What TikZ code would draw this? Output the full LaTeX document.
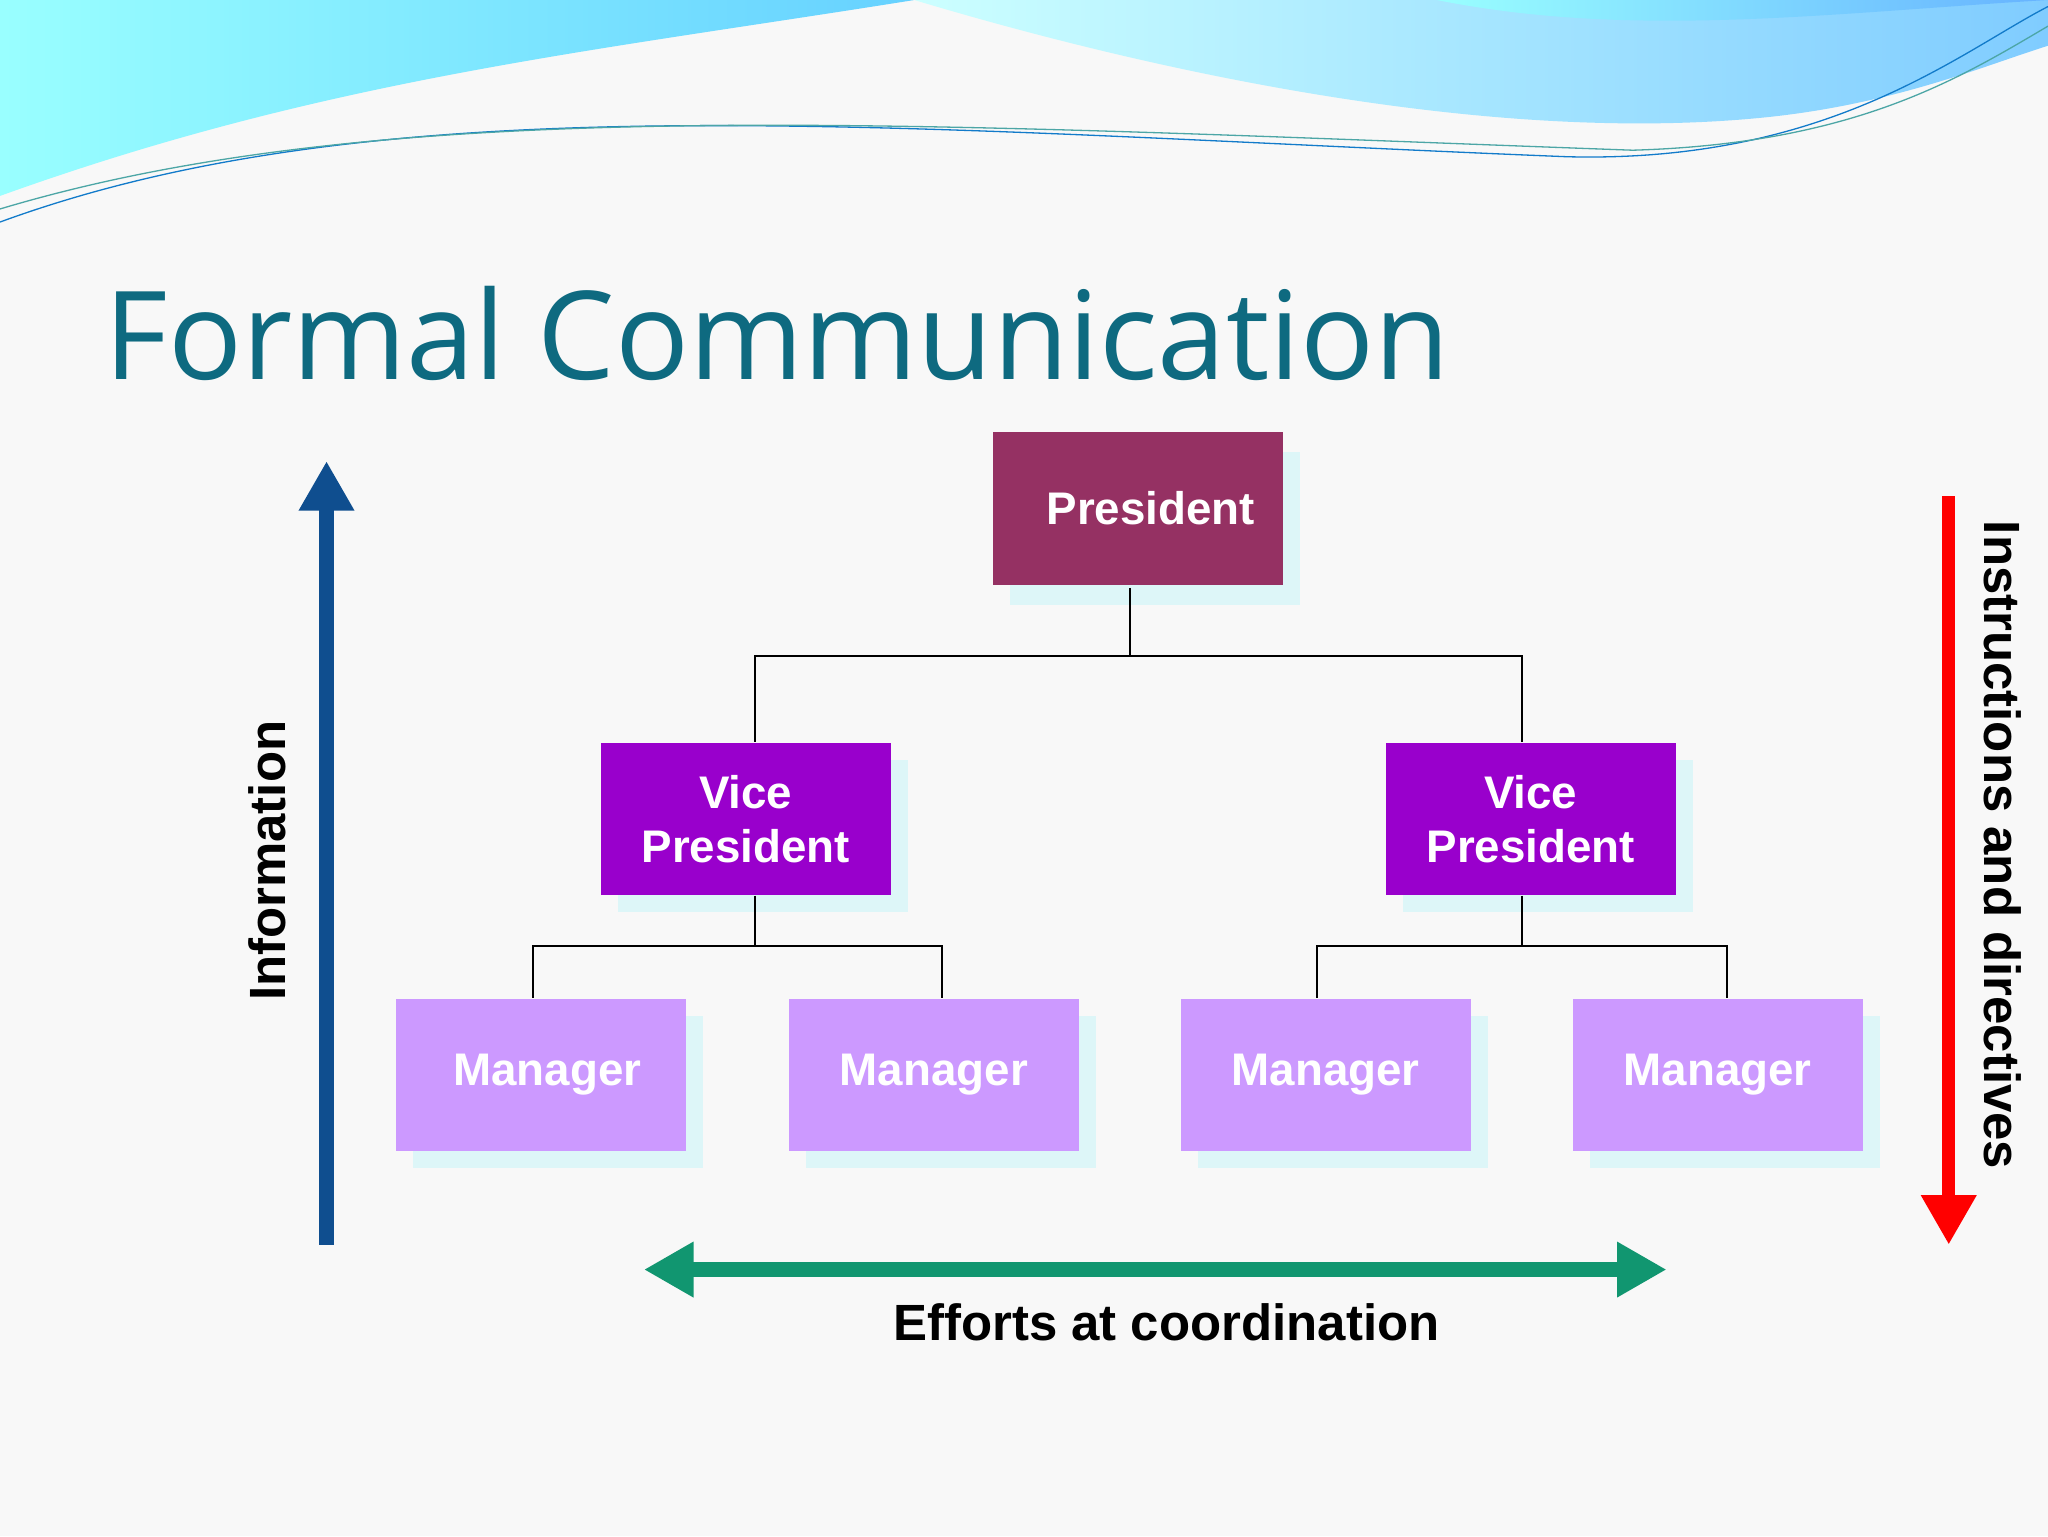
\documentclass[tikz,border=0pt]{standalone}
\usepackage{fontspec}
\setmainfont{Liberation Sans}
\newfontfamily\titlefont{Open Sans}
\usetikzlibrary{arrows.meta}
\definecolor{bg}{HTML}{F8F8F8}
\definecolor{shad}{HTML}{DDF6F8}
\definecolor{pres}{HTML}{953163}
\definecolor{vp}{HTML}{9900CC}
\definecolor{mgr}{HTML}{CC99FF}
\definecolor{ttl}{HTML}{0E6A80}
\definecolor{blu}{HTML}{0F4E8F}
\definecolor{grn}{HTML}{119670}
\begin{document}
\begin{tikzpicture}[x=1pt,y=-1pt,
  box/.style={minimum width=222pt,minimum height=117pt,inner sep=0pt,text=white,
    font=\fontsize{35}{41}\selectfont\bfseries,align=center},
  shadowbox/.style={fill=shad,minimum width=222pt,minimum height=117pt,inner sep=0pt},
  conn/.style={draw=black,line width=1.6pt},
  lab/.style={font=\fontsize{39}{43}\selectfont\bfseries}]
\useasboundingbox (0,0) rectangle (1568,1176);
\fill[bg] (0,0) rectangle (1568,1176);
% top waves
\shade[left color=cyan!40!white,right color=blue!30!cyan!60] (0,0) -- (0,150) .. controls (250,60) and (450,40) .. (700,0) -- cycle;
\shade[left color=cyan!20!white,right color=cyan!60!blue!50] (700,0) .. controls (900,60) and (1150,110) .. (1350,90) .. controls (1450,80) and (1520,50) .. (1568,35) -- (1568,0) -- cycle;
\shade[left color=cyan!40!white,right color=cyan!50!blue!60] (1100,0) .. controls (1250,30) and (1400,10) .. (1568,0) -- cycle;
\draw[cyan!60!blue,line width=1pt] (0,170) .. controls (300,60) and (700,100) .. (1200,120) .. controls (1400,125) and (1500,40) .. (1568,5);
\draw[teal!70,line width=1pt] (0,160) .. controls (300,70) and (700,95) .. (1250,115) .. controls (1420,110) and (1500,60) .. (1568,20);
% title
\node[anchor=west,text=ttl,font=\titlefont\fontsize{94}{106}\selectfont,inner sep=0pt] (title) at (80,255) {Formal Communication};
% shadows
\foreach \x/\y in {871/391.5, 571/627, 1172/627, 414/823, 715/823, 1015/823, 1315/823}
  \node[shadowbox] at (\x+13,\y+13) {};
% boxes
\node[box,fill=pres] (P) at (871,389) {\hspace*{20pt}President};
\node[box,fill=vp] (VL) at (571,627) {Vice\\President};
\node[box,fill=vp] (VR) at (1172,627) {Vice\\President};
\node[box,fill=mgr] (M1) at (414,823) {\hspace*{10pt}Manager};
\node[box,fill=mgr] (M2) at (715,823) {Manager};
\node[box,fill=mgr] (M3) at (1015,823) {Manager};
\node[box,fill=mgr] (M4) at (1315,823) {Manager};
% connectors
\coordinate (j1) at (865,502);
\coordinate (j2) at (578,724);
\coordinate (j3) at (1165,724);
\draw[conn] (865,450) -- (j1);
\draw[conn] (j1) -| ([xshift=7pt]VL.north);
\draw[conn] (j1) -| ([xshift=-7pt]VR.north);
\draw[conn] (VL.south -| j2) -- (j2);
\draw[conn] (j2) -| ([xshift=-6pt]M1.north);
\draw[conn] (j2) -| ([xshift=6pt]M2.north);
\draw[conn] (VR.south -| j3) -- (j3);
\draw[conn] (j3) -| ([xshift=-7pt]M3.north);
\draw[conn] (j3) -| ([xshift=7pt]M4.north);
% arrows
\coordinate (bA) at (250,953); \coordinate (bB) at (250,353);
\draw[blu,line width=12pt,-{Triangle[length=38pt,width=40pt]}] (bA) -- (bB);
\coordinate (rA) at (1492,380); \coordinate (rB) at (1492,953);
\draw[red,line width=10pt,-{Triangle[length=38pt,width=40pt]}] (rA) -- (rB);
\coordinate (gA) at (493,972); \coordinate (gB) at (1276,972);
\draw[grn,line width=12pt,{Triangle[length=38pt,width=40pt]}-{Triangle[length=38pt,width=40pt]}] (gA) -- (gB);
% labels
\node[lab,rotate=90] (info) at (205,659) {Information};
\node[lab,rotate=-90] (instr) at (1533,647) {Instructions and directives};
\node[lab] (eff) at (893,1012) {Efforts at coordination};
\end{tikzpicture}
\end{document}
